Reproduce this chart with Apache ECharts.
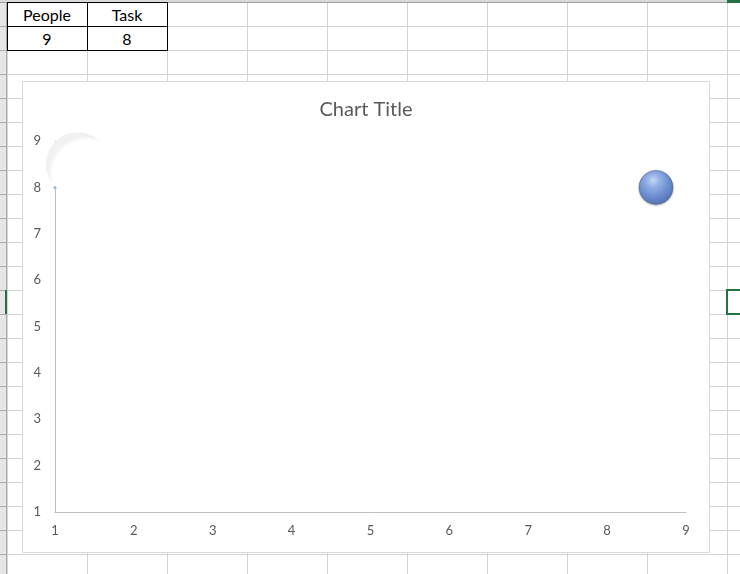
<!DOCTYPE html>
<html><head><meta charset="utf-8">
<script src="https://cdn.jsdelivr.net/npm/echarts@6/dist/echarts.min.js"></script>
<style>
html,body{margin:0;padding:0;width:740px;height:574px;overflow:hidden;background:#fff;font-family:Lato,'Liberation Sans',sans-serif;}
.grid{position:absolute;left:7px;top:0;width:733px;height:574px;
 background-image:linear-gradient(to right,#d4d4d4 1px,transparent 1px),linear-gradient(to bottom,#d4d4d4 1px,transparent 1px);
 background-size:80px 24px;background-position:0 2px;}
.rowhdr{position:absolute;left:0;top:0;width:6px;height:574px;background-color:#e6e6e6;border-right:1px solid #ababab;
 background-image:linear-gradient(to bottom,#ababab 1px,transparent 1px);background-size:6px 24px;background-position:0 2px;}
.colhdr{position:absolute;left:0;top:0;width:740px;height:2px;background:#d9d9d9;border-bottom:1px solid #9e9e9e;}
.cell{position:absolute;height:24px;width:80px;text-align:center;line-height:24px;font-size:16px;color:#000;font-family:Lato,'Liberation Sans',sans-serif;}
.bl{position:absolute;background:#000;}
#chart{position:absolute;left:22px;top:81px;width:688px;height:472px;}
</style></head>
<body>
<div class="grid"></div>
<div class="rowhdr"></div>
<div class="colhdr"></div>
<div style="position:absolute;left:727px;top:0;width:13px;height:3px;background:#217346"></div>
<div style="position:absolute;left:5px;top:290px;width:2px;height:24px;background:#217346"></div>
<div style="position:absolute;left:726px;top:289px;width:20px;height:22px;border:2px solid #217346"></div>
<div id="table"></div>
<div id="chart"></div>
<script>
// spreadsheet table
const tableHeaders = ['People', 'Task'];
const tableValues = [9, 8];
// chart data
const xTicks = [1, 2, 3, 4, 5, 6, 7, 8, 9];
const yTicks = [1, 2, 3, 4, 5, 6, 7, 8, 9];
const bubbleX = [8.62];
const bubbleY = [8];
const ghostX = [1.29];
const ghostY = [8.5];
const markerX = [1];
const markerY = [8];

// table cells (HTML)
const tbl = document.getElementById('table');
let html = '';
tableHeaders.forEach((h, i) => {
  html += '<div class="cell" style="left:' + (7 + 80 * i) + 'px;top:3px">' + h + '</div>';
  html += '<div class="cell" style="left:' + (7 + 80 * i) + 'px;top:27px">' + tableValues[i] + '</div>';
});
html += '<div class="bl" style="left:7px;top:2px;width:161px;height:1px"></div>';
html += '<div class="bl" style="left:7px;top:26px;width:161px;height:1px"></div>';
html += '<div class="bl" style="left:7px;top:50px;width:161px;height:1px"></div>';
[7, 87, 167].forEach(x => { html += '<div class="bl" style="left:' + x + 'px;top:2px;width:1px;height:49px"></div>'; });
tbl.innerHTML = html;

const chart = echarts.init(document.getElementById('chart'));
const font = 'Lato, "Liberation Sans", sans-serif';
chart.setOption({
  animation: false,
  backgroundColor: '#fff',
  title: { text: 'Chart Title', left: 'center', top: 14,
    textStyle: { fontSize: 20, fontWeight: 'normal', color: '#595959', fontFamily: font } },
  graphic: [{ type: 'rect', shape: { x: 0.5, y: 0.5, width: 687, height: 471 },
    style: { fill: 'none', stroke: '#d9d9d9', lineWidth: 1 }, z: 100 }],
  grid: { left: 33, right: 24, top: 60, bottom: 41 },
  xAxis: { type: 'value', min: xTicks[0], max: xTicks[xTicks.length - 1], interval: 1,
    axisLine: { show: true, lineStyle: { color: '#bfbfbf', width: 1 } },
    axisTick: { show: false }, splitLine: { show: false },
    axisLabel: { color: '#595959', fontSize: 13, margin: 12, fontFamily: font } },
  yAxis: { type: 'value', min: yTicks[0], max: yTicks[yTicks.length - 1], interval: 1,
    axisLine: { show: true, lineStyle: { color: '#bfbfbf', width: 1 } },
    axisTick: { show: false }, splitLine: { show: false },
    axisLabel: { color: '#595959', fontSize: 13, margin: 14, fontFamily: font } },
  series: [
    { type: 'scatter', name: 'ghost', clip: false, symbolSize: 64, z: 3,
      data: ghostX.map((x, i) => [x, ghostY[i]]),
      itemStyle: { opacity: 1, color: { type: 'radial', x: 0.64, y: 0.66, r: 0.6,
        colorStops: [{ offset: 0, color: '#ffffff' }, { offset: 0.88, color: '#ffffff' }, { offset: 1, color: '#f1f1f1' }] } } },
    { type: 'scatter', name: 'People', clip: false, symbolSize: 3, z: 4,
      data: markerX.map((x, i) => [x, markerY[i]]),
      itemStyle: { color: '#9db5e3', opacity: 1 } },
    { type: 'scatter', name: 'Task', clip: false, symbolSize: 34, z: 5,
      data: bubbleX.map((x, i) => [x, bubbleY[i]]),
      itemStyle: { opacity: 1,
        color: { type: 'radial', x: 0.42, y: 0.3, r: 0.75,
          colorStops: [{ offset: 0, color: '#c3d6f7' }, { offset: 0.25, color: '#93b0e6' },
                       { offset: 0.6, color: '#6d8fd0' }, { offset: 0.9, color: '#5577b8' }, { offset: 1, color: '#4a679f' }] },
        borderColor: 'rgba(70,90,130,0.6)', borderWidth: 0.8,
        shadowBlur: 2, shadowColor: 'rgba(0,0,0,0.25)', shadowOffsetY: 1 } }
  ]
});
</script>
</body></html>
